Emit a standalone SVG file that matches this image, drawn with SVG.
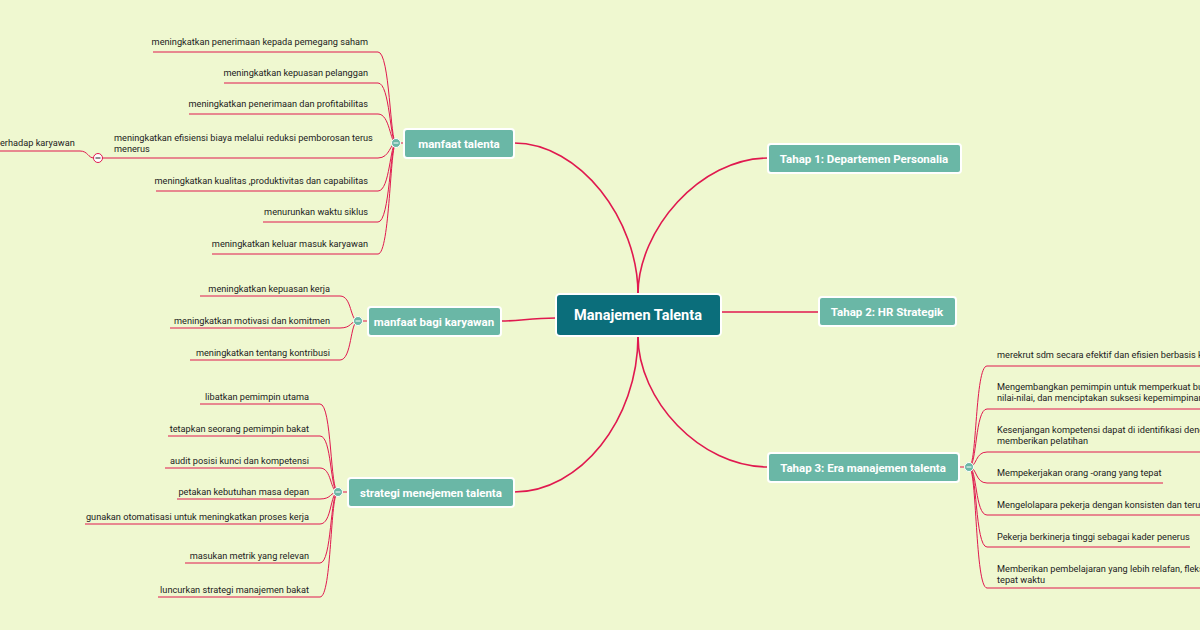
<svg xmlns="http://www.w3.org/2000/svg" width="1200" height="630" viewBox="0 0 1200 630">
<style>
.l{fill:none;stroke:#e0194f;stroke-width:1}
.m{fill:none;stroke:#e0194f;stroke-width:1.6}
.t{font-family:Roboto,"Liberation Sans",sans-serif;font-size:9.2px;fill:#222}
.r{text-anchor:end}
.b{fill:#6ab7a6;stroke:#fff;stroke-width:2}
.bt{font-family:Roboto,"Liberation Sans",sans-serif;font-size:11.5px;font-weight:bold;fill:#fff;text-anchor:middle}
.ct{font-size:14.5px}
.c{fill:#6ab7a6;stroke:#fff;stroke-width:1}
.cm{fill:#fff;stroke:#e0194f;stroke-width:1}
</style>
<rect width="1200" height="630" fill="#eff8d0"/>
<g id="connectors">
<path class="m" d="M638 294 C638 230 700 158 768 158"/>
<path class="m" d="M721 312 L819 312"/>
<path class="m" d="M638 336 C638 400 700 467 768 467"/>
<path class="m" d="M638 294 C638 220 580 143 514 143"/>
<path class="m" d="M556 318 C530 318 520 321 501 321"/>
<path class="m" d="M638 336 C638 420 580 492 514 492"/>
<path class="l" d="M404 143 L396 143"/>
<path class="l" d="M396 143 C390 143 390 52 378 52 L153 52"/>
<path class="l" d="M396 143 C390 143 390 83 378 83 L224 83"/>
<path class="l" d="M396 143 C390 143 390 114 378 114 L189 114"/>
<path class="l" d="M396 143 C390 143 390 158 378 158 L102 158"/>
<path class="l" d="M396 143 C390 143 390 191 378 191 L156 191"/>
<path class="l" d="M396 143 C390 143 390 222 378 222 L263 222"/>
<path class="l" d="M396 143 C390 143 390 254 378 254 L212 254"/>
<path class="l" d="M94 158 C88 158 88 151 80 151 L0 151"/>
<path class="l" d="M368 321 L358 321"/>
<path class="l" d="M358 321 C350 321 352 296 340 296 L200 296"/>
<path class="l" d="M358 321 C350 321 352 328 340 328 L170 328"/>
<path class="l" d="M358 321 C350 321 352 360 340 360 L190 360"/>
<path class="l" d="M348 492 L338 492"/>
<path class="l" d="M338 492 C330 492 332 404 320 404 L200 404"/>
<path class="l" d="M338 492 C330 492 332 436 320 436 L168 436"/>
<path class="l" d="M338 492 C330 492 332 468 320 468 L165 468"/>
<path class="l" d="M338 492 C330 492 332 499 320 499 L177 499"/>
<path class="l" d="M338 492 C330 492 332 524 320 524 L85 524"/>
<path class="l" d="M338 492 C330 492 332 563 320 563 L185 563"/>
<path class="l" d="M338 492 C330 492 332 597 320 597 L158 597"/>
<path class="l" d="M959 467 L969 467"/>
<path class="l" d="M969 467 C977 467 975 366 987 366 L1200 366"/>
<path class="l" d="M969 467 C977 467 975 409 987 409 L1200 409"/>
<path class="l" d="M969 467 C977 467 975 452 987 452 L1200 452"/>
<path class="l" d="M969 467 C977 467 975 483 987 483 L1163 483"/>
<path class="l" d="M969 467 C977 467 975 515 987 515 L1200 515"/>
<path class="l" d="M969 467 C977 467 975 547 987 547 L1190 547"/>
<path class="l" d="M969 467 C977 467 975 588 987 588 L1200 588"/>
</g>
<g id="center"><rect x="556" y="294" width="165" height="42" rx="4" fill="#0b6e7b" stroke="#fff" stroke-width="2"/><text x="638" y="320" class="bt ct">Manajemen Talenta</text></g>
<g id="tahap1"><rect class="b" x="768" y="144" width="193" height="29" rx="3"/><text x="864" y="162.5" class="bt">Tahap 1: Departemen Personalia</text></g>
<g id="tahap2"><rect class="b" x="819" y="297" width="137" height="29" rx="3"/><text x="887" y="315.5" class="bt">Tahap 2: HR Strategik</text></g>
<g id="tahap3"><rect class="b" x="768" y="453" width="191" height="29" rx="3"/><text x="863" y="471.5" class="bt">Tahap 3: Era manajemen talenta</text>
<circle class="c" cx="969" cy="467" r="4.5"/><path d="M966.5 467h5" stroke="#fff"/>
<text class="t" x="997" y="358">merekrut sdm secara efektif dan efisien berbasis ko</text>
<text class="t" x="997" y="390">Mengembangkan pemimpin untuk memperkuat bud</text>
<text class="t" x="997" y="401">nilai-nilai, dan menciptakan suksesi kepemimpinan</text>
<text class="t" x="997" y="433">Kesenjangan kompetensi dapat di identifikasi deng</text>
<text class="t" x="997" y="444">memberikan pelatihan</text>
<text class="t" x="997" y="476">Mempekerjakan orang -orang yang tepat</text>
<text class="t" x="997" y="508">Mengelolapara pekerja dengan konsisten dan teruk</text>
<text class="t" x="997" y="540">Pekerja berkinerja tinggi sebagai kader penerus</text>
<text class="t" x="997" y="572">Memberikan pembelajaran yang lebih relafan, fleks</text>
<text class="t" x="997" y="583">tepat waktu</text></g>
<g id="manfaat-talenta"><rect class="b" x="404" y="129" width="110" height="29" rx="3"/><text x="459" y="147.5" class="bt">manfaat talenta</text>
<circle class="c" cx="396" cy="143" r="4.5"/><path d="M393.5 143h5" stroke="#fff"/>
<text class="t r" x="368" y="45">meningkatkan penerimaan kepada pemegang saham</text>
<text class="t r" x="368" y="76">meningkatkan kepuasan pelanggan</text>
<text class="t r" x="368" y="107">meningkatkan penerimaan dan profitabilitas</text>
<text class="t" x="114" y="141">meningkatkan efisiensi biaya melalui reduksi pemborosan terus</text>
<text class="t" x="114" y="152">menerus</text>
<text class="t r" x="368" y="184">meningkatkan kualitas ,produktivitas dan capabilitas</text>
<text class="t r" x="368" y="215">menurunkan waktu siklus</text>
<text class="t r" x="368" y="247">meningkatkan keluar masuk karyawan</text>
<circle class="cm" cx="98" cy="158" r="4.5"/><path d="M95.5 158h5" stroke="#222"/>
<text class="t" x="0" y="146">erhadap karyawan</text></g>
<g id="manfaat-karyawan"><rect class="b" x="368" y="307" width="133" height="29" rx="3"/><text x="434" y="325.5" class="bt">manfaat bagi karyawan</text>
<circle class="c" cx="358" cy="321" r="4.5"/><path d="M355.5 321h5" stroke="#fff"/>
<text class="t r" x="330" y="292">meningkatkan kepuasan kerja</text>
<text class="t r" x="330" y="324">meningkatkan motivasi dan komitmen</text>
<text class="t r" x="330" y="356">meningkatkan tentang kontribusi</text></g>
<g id="strategi"><rect class="b" x="348" y="478" width="166" height="29" rx="3"/><text x="431" y="496.5" class="bt">strategi menejemen talenta</text>
<circle class="c" cx="338" cy="492" r="4.5"/><path d="M335.5 492h5" stroke="#fff"/>
<text class="t r" x="309" y="400">libatkan pemimpin utama</text>
<text class="t r" x="309" y="432">tetapkan seorang pemimpin bakat</text>
<text class="t r" x="309" y="464">audit posisi kunci dan kompetensi</text>
<text class="t r" x="309" y="495">petakan kebutuhan masa depan</text>
<text class="t r" x="309" y="520">gunakan otomatisasi untuk meningkatkan proses kerja</text>
<text class="t r" x="309" y="559">masukan metrik yang relevan</text>
<text class="t r" x="309" y="593">luncurkan strategi manajemen bakat</text></g>
</svg>
